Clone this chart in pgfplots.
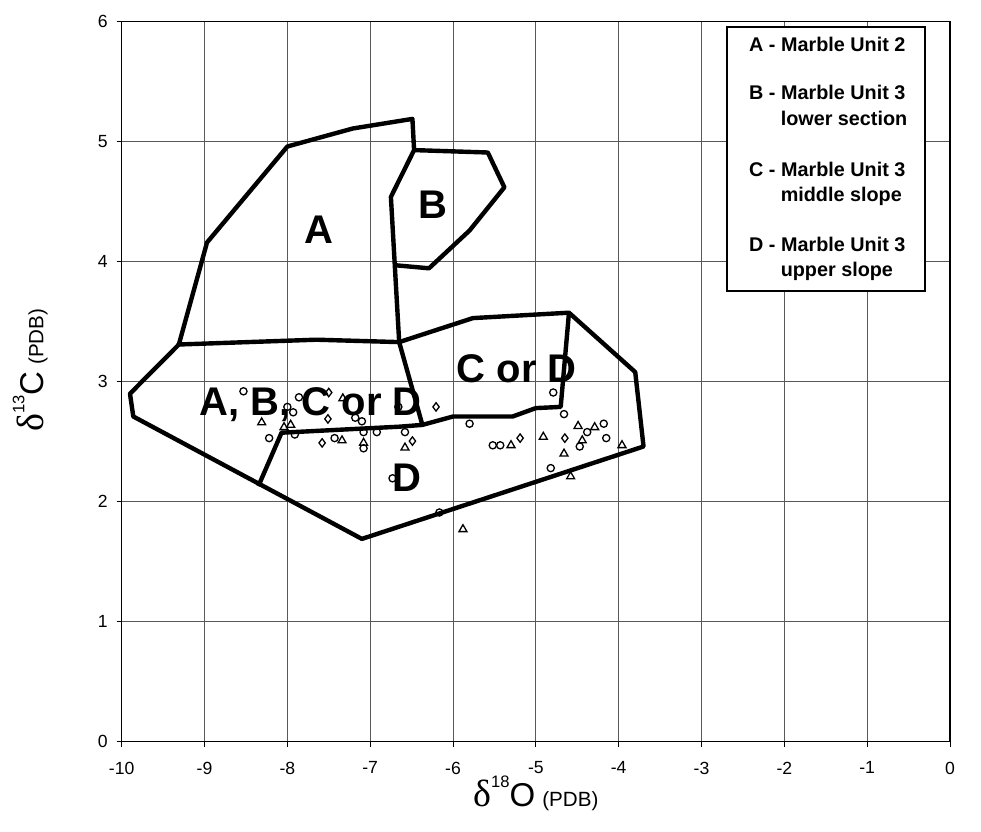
\documentclass[border=0pt]{standalone}
\usepackage{fontspec}
\setmainfont{Liberation Sans}
\newfontfamily\grk{Liberation Serif}
\usepackage{pgfplots}
\pgfplotsset{compat=1.18}
\begin{document}
\begin{tikzpicture}
\begin{axis}[
 at={(0,0)}, anchor=south west,
 scale only axis, width=414.15pt, height=360pt,
 xmin=-10, xmax=0, ymin=0, ymax=6,
 xtick={-10,-9,-8,-7,-6,-5,-4,-3,-2,-1,0}, ytick={0,1,2,3,4,5,6},
 xticklabels={-10,-9,-8,-7,-6,-5,-4,-3,-2,-1,0},
 yticklabels={0,1,2,3,4,5,6},
 tick pos=left, tick align=outside, major tick length=2.5pt,
 grid=major, major grid style={black!65, line width=0.5pt},
 axis line style={black, line width=0.6pt},
 tick style={black, line width=0.5pt},
 ticklabel style={font=\fontsize{8.8}{10}\selectfont},
 xticklabel style={yshift=-4pt},
 yticklabel style={xshift=-1pt},
 xlabel={{\grk\fontsize{19}{20}\selectfont δ}\raisebox{9.5pt}{\fontsize{8.3}{9}\selectfont 18}{\fontsize{16.5}{18}\selectfont O}\hspace{3.5pt}{\fontsize{10.3}{11}\selectfont (PDB)}},
 ylabel={{\grk\fontsize{19}{20}\selectfont δ}\raisebox{9.5pt}{\fontsize{8.3}{9}\selectfont 13}{\fontsize{16.5}{18}\selectfont C}\hspace{3.5pt}{\fontsize{10.3}{11}\selectfont (PDB)}},
 xlabel style={at={(axis description cs:0.5,-0.0903)}, anchor=base, inner sep=0pt},
 ylabel style={at={(axis description cs:-0.0947,0.516)}, anchor=base, inner sep=0pt},
 clip=false,
]
% region outlines
\addplot[black, line width=2.2pt, line join=round, no marks] coordinates {
 (-9.31,3.31) (-8.97,4.16) (-8.0,4.96) (-7.21,5.11) (-6.49,5.19) (-6.47,4.93)
 (-6.75,4.54) (-6.65,3.33) (-7.65,3.35) (-9.31,3.31)};
\addplot[black, line width=2.2pt, line join=round, no marks] coordinates {
 (-6.47,4.93) (-5.58,4.91) (-5.38,4.62) (-5.80,4.26) (-6.29,3.945) (-6.69,3.97)};
\addplot[black, line width=2.2pt, line join=round, no marks] coordinates {
 (-9.31,3.31) (-9.90,2.90) (-9.86,2.71) (-7.10,1.69) (-3.70,2.46) (-3.80,3.08)
 (-4.60,3.575) (-5.76,3.53) (-6.65,3.33)};
\addplot[black, line width=2.2pt, line join=round, no marks] coordinates {
 (-6.65,3.33) (-6.37,2.64)};
\addplot[black, line width=2.2pt, line join=round, no marks] coordinates {
 (-4.60,3.575) (-4.70,2.79) (-5.0,2.78) (-5.28,2.71) (-6.0,2.71) (-6.37,2.64)
 (-6.65,2.625) (-8.07,2.575) (-8.35,2.13)};
% data points
\addplot[only marks, mark=o, mark size=1.8pt, mark options={black, line width=0.65pt}] coordinates {
 (-8.53,2.92) (-7.86,2.87) (-8.00,2.79) (-7.93,2.745) (-8.22,2.53) (-7.91,2.56)
 (-7.43,2.53) (-7.18,2.70) (-7.10,2.67) (-7.08,2.58) (-6.92,2.58) (-7.08,2.445)
 (-6.66,2.79) (-6.58,2.58) (-6.73,2.195) (-5.80,2.65) (-5.52,2.47) (-5.43,2.47)
 (-4.79,2.91) (-4.66,2.73) (-4.38,2.58) (-4.18,2.65) (-4.15,2.53) (-4.47,2.46)
 (-4.82,2.28) (-6.165,1.91)};
\addplot[only marks, mark=triangle, mark size=2.3pt, mark options={black, line width=0.65pt}] coordinates {
 (-8.31,2.66) (-8.04,2.62) (-7.96,2.64) (-7.33,2.86) (-7.34,2.51) (-7.08,2.49)
 (-6.58,2.45) (-5.30,2.47) (-4.91,2.54) (-4.66,2.40) (-4.58,2.21) (-4.49,2.63)
 (-4.44,2.51) (-4.29,2.62) (-3.96,2.47) (-5.88,1.77)};
\addplot[only marks, mark=diamond, mark size=2.1pt, mark options={black, line width=0.65pt}] coordinates {
 (-7.50,2.91) (-7.51,2.69) (-7.58,2.49) (-6.49,2.505) (-6.205,2.79) (-5.19,2.53) (-4.65,2.53)};
% region labels
\node[anchor=base, font=\bfseries\fontsize{20}{22}\selectfont] at (axis cs:-7.614,4.148) {A};
\node[anchor=base, font=\bfseries\fontsize{20}{22}\selectfont] at (axis cs:-6.246,4.356) {B};
\node[anchor=base, font=\bfseries\fontsize{20}{22}\selectfont] at (axis cs:-5.229,2.99) {C or D};
\node[anchor=base, font=\bfseries\fontsize{20}{22}\selectfont] at (axis cs:-7.72,2.72) {A, B, C or D};
\node[anchor=base, font=\bfseries\fontsize{20}{22}\selectfont] at (axis cs:-6.557,2.083) {D};
% legend box
\draw[fill=white, line width=0.8pt] (axis cs:-2.692,5.958) rectangle (axis cs:-0.301,3.756);
\begin{scope}[every node/.style={anchor=base west, inner sep=0pt, font=\bfseries\fontsize{9.9}{11}\selectfont}]
\node at (axis cs:-2.429,5.75) {A - Marble Unit 2};
\node at (axis cs:-2.429,5.348) {B - Marble Unit 3};
\node at (axis cs:-2.048,5.131) {lower section};
\node at (axis cs:-2.429,4.708) {C - Marble Unit 3};
\node at (axis cs:-2.048,4.5) {middle slope};
\node at (axis cs:-2.429,4.083) {D - Marble Unit 3};
\node at (axis cs:-2.048,3.875) {upper slope};
\end{scope}
\end{axis}
\pgfresetboundingbox
\path[use as bounding box] (-60.85pt,-44.65pt) rectangle (429.65pt,370.85pt);
\end{tikzpicture}
\end{document}
